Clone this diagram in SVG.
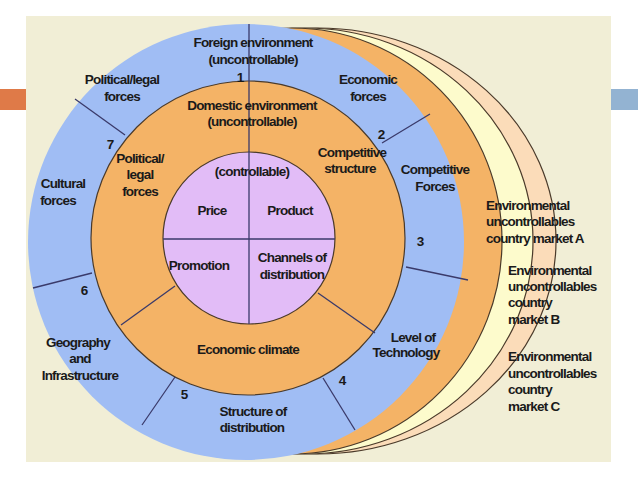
<svg xmlns="http://www.w3.org/2000/svg" width="638" height="478" viewBox="0 0 638 478">
<style>
text{font-family:"Liberation Sans",Arial,sans-serif;font-weight:bold;font-size:13.5px;fill:#1a1a1a;text-anchor:middle;letter-spacing:-0.8px}
.l{text-anchor:start}
.ln{stroke:#3a3a6a;stroke-width:1.3;fill:none}
.b{stroke:#4a3a2a;stroke-width:1.2}
</style>
<rect width="638" height="478" fill="#fff"/>
<rect x="26" y="16" width="585" height="446" fill="#f1eed6"/>
<rect x="0" y="89" width="26" height="21" fill="#df7a48"/>
<rect x="611" y="89" width="27" height="21" fill="#93b3d2"/>
<g id="rings">
<ellipse cx="318" cy="241" rx="238" ry="213" fill="#fbdcb9" class="b"/>
<ellipse cx="305" cy="241" rx="228" ry="213" fill="#fdfbcc" class="b"/>
<ellipse cx="292" cy="241" rx="210" ry="213" fill="#f4b366" class="b"/>
<circle cx="246" cy="242" r="218" fill="#a0bdf4"/>
<circle cx="248" cy="238" r="157" fill="#f4b366" class="b"/>
<circle cx="249" cy="238" r="86" fill="#e2bcf7" class="b"/>
</g>
<g id="connectors">
<line class="ln" x1="249" y1="24" x2="249" y2="324"/>
<line class="ln" x1="163" y1="239" x2="335" y2="239"/>
<line class="ln" x1="75" y1="99" x2="125" y2="135"/>
<line class="ln" x1="430" y1="114" x2="382" y2="143"/>
<line class="ln" x1="406" y1="267" x2="468" y2="280"/>
<line class="ln" x1="323" y1="378" x2="355" y2="430"/>
<line class="ln" x1="175" y1="377" x2="142" y2="425"/>
<line class="ln" x1="92" y1="273" x2="33" y2="288"/>
<line class="ln" x1="175" y1="286" x2="121" y2="325" stroke="#5a3a1a"/>
<line class="ln" x1="318" y1="293" x2="375" y2="333" stroke="#5a3a1a"/>
</g>
<g id="labels">
<text x="253" y="47">Foreign environment</text><text x="253" y="64">(uncontrollable)</text>
<text x="240" y="82">1</text>
<text x="122" y="84">Political/legal</text><text x="122" y="101">forces</text>
<text x="368" y="84">Economic</text><text x="368" y="101">forces</text>
<text x="252" y="110">Domestic environment</text><text x="252" y="126">(uncontrollable)</text>
<text x="381" y="139">2</text>
<text x="110" y="149">7</text>
<text x="352" y="157">Competitive</text><text x="350" y="173">structure</text>
<text x="140" y="163">Political/</text><text x="140" y="179">legal</text><text x="140" y="196">forces</text>
<text x="252" y="176">(controllable)</text>
<text x="435" y="174">Competitive</text><text x="435" y="191">Forces</text>
<text x="63" y="188">Cultural</text><text x="58" y="205">forces</text>
<text x="212" y="215">Price</text><text x="290" y="215">Product</text>
<text class="l" x="486" y="210">Environmental</text><text class="l" x="486" y="226">uncontrollables</text><text class="l" x="486" y="243">country market A</text>
<text x="420" y="246">3</text>
<text x="199" y="270">Promotion</text><text x="292" y="262">Channels of</text><text x="292" y="279">distribution</text>
<text class="l" x="508" y="275">Environmental</text><text class="l" x="508" y="291">uncontrollables</text><text class="l" x="508" y="307">country</text><text class="l" x="508" y="324">market B</text>
<text x="84" y="295">6</text>
<text x="78" y="347">Geography</text><text x="80" y="363">and</text><text x="80" y="380">Infrastructure</text>
<text x="248" y="354">Economic climate</text>
<text x="413" y="342">Level of</text><text x="406" y="357">Technology</text>
<text class="l" x="508" y="361">Environmental</text><text class="l" x="508" y="378">uncontrollables</text><text class="l" x="508" y="394">country</text><text class="l" x="508" y="411">market C</text>
<text x="342" y="385">4</text>
<text x="184" y="399">5</text>
<text x="253" y="416">Structure of</text><text x="252" y="432">distribution</text>
</g>
</svg>
